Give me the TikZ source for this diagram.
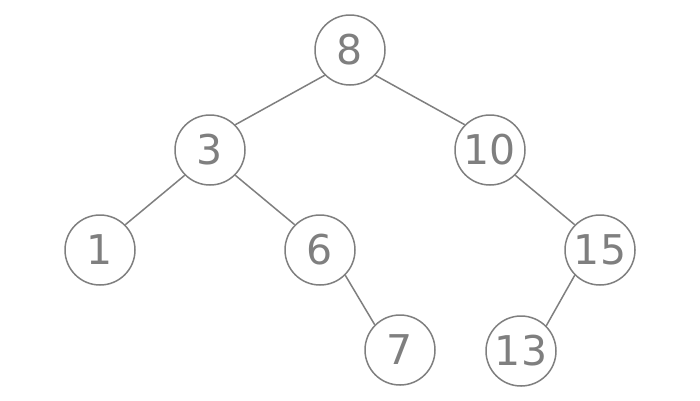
\documentclass[tikz,border=0pt]{standalone}
\usepackage{fontspec}
\setmainfont{DejaVu Sans}
\definecolor{gr}{HTML}{7F7F7F}
\begin{document}
\begin{tikzpicture}[x=1pt,y=-1pt,
  tn/.style={circle,draw=gr,line width=1.5pt,minimum size=70pt,inner sep=0pt,text=gr,font=\fontsize{41}{48}\selectfont},
  ed/.style={draw=gr,line width=1.5pt}]
\useasboundingbox (0,0) rectangle (700,400);
\node[tn] (n8) at (350,50) {8};
\node[tn] (n3) at (210,150) {3};
\node[tn] (n10) at (490,150) {10};
\node[tn] (n1) at (100,250) {1};
\node[tn] (n6) at (320,250) {6};
\node[tn] (n15) at (600,250) {15};
\node[tn] (n7) at (400,350) {7};
\node[tn] (n13) at (521,351) {13};
\draw[ed] (n8.south west) -- (n3.north east);
\draw[ed] (n8.south east) -- (n10.north west);
\draw[ed] (n3.south west) -- (n1.north east);
\draw[ed] (n3.south east) -- (n6.north west);
\draw[ed] (n6.south east) -- (n7.north west);
\draw[ed] (n10.south east) -- (n15.north west);
\draw[ed] (n15.south west) -- (n13.north east);
\end{tikzpicture}
\end{document}
